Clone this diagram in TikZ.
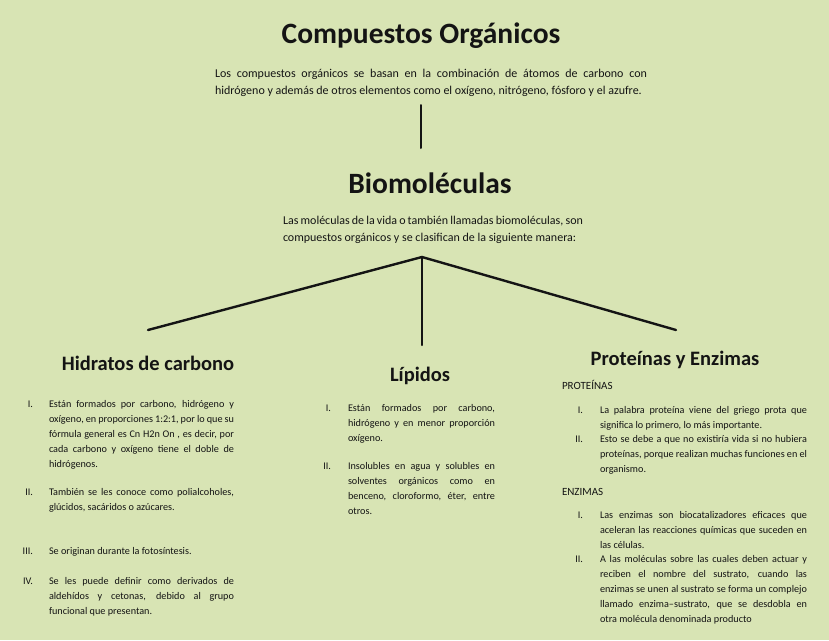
\documentclass[tikz,border=0pt]{standalone}
\usepackage{fontspec}
\setmainfont{Carlito}
\definecolor{bg}{RGB}{216,228,180}
\definecolor{ink}{RGB}{20,20,20}
\hyphenpenalty=10000
\exhyphenpenalty=10000
\emergencystretch=20pt
\begin{document}
\begin{tikzpicture}[x=1pt,y=-1pt,
  every node/.style={inner sep=0pt,outer sep=0pt,text=ink},
  title/.style={font=\bfseries\fontsize{29.5}{32}\selectfont, anchor=base},
  branch/.style={font=\bfseries\fontsize{20.5}{22}\selectfont, anchor=base},
  intro/.style={font=\fontsize{12}{17.5}\selectfont, anchor=base west, align=justify},
  num/.style={font=\fontsize{10.2}{15}\selectfont, anchor=base east},
  body/.style={font=\fontsize{10.2}{15}\selectfont, anchor=base west, align=justify},
  sub/.style={font=\fontsize{11}{15}\selectfont, anchor=base west},
  link/.style={line width=2.4pt, draw=ink, line cap=round}
]
\fill[bg] (0,0) rectangle (829,640);
\useasboundingbox (0,0) rectangle (829,640);

% top
\node[title] (t) at (421,43) {Compuestos Orgánicos};
\node[intro, text width=432pt] (tp) at (215,77) {\parfillskip=0pt Los compuestos orgánicos se basan en la combinación de átomos de carbono con\linebreak hidrógeno y además de otros elementos como el oxígeno, nitrógeno, fósforo y el azufre.};
\coordinate (v1) at (421,105);
\coordinate (v2) at (421,148);
\draw[link, line width=2pt] (v1) -- (v2);

\node[title] (b) at (430,193) {Biomoléculas};
\node[intro, text width=300pt] (bp) at (283,224) {\parfillskip=0pt Las moléculas de la vida o también llamadas biomoléculas, son\linebreak compuestos orgánicos y se clasifican de la siguiente manera:};

\coordinate (apex) at (422,257);
\coordinate (e1) at (148,330);
\coordinate (e2) at (422,345);
\coordinate (e3) at (676,330);
\draw[link] (apex) -- (e1);
\draw[link] (apex) -- (e2);
\draw[link] (apex) -- (e3);

\node[branch] (hc) at (148,370) {Hidratos de carbono};
\node[branch] (lp) at (420,381) {Lípidos};
\node[branch] (pe) at (675,365) {Proteínas y Enzimas};

% left list
\node[num] (l1n) at (33,407) {I.};
\node[body, text width=185pt] (l1) at (49,407) {Están formados por carbono, hidrógeno y\linebreak oxígeno, en proporciones 1:2:1, por lo que su\linebreak fórmula general es Cn H2n On , es decir, por\linebreak cada carbono y oxígeno tiene el doble de\linebreak hidrógenos.};
\node[num] (l2n) at (33,495) {II.};
\node[body, text width=185pt] (l2) at (49,495) {También se les conoce como polialcoholes,\linebreak glúcidos, sacáridos o azúcares.};
\node[num] (l3n) at (33,554) {III.};
\node[body, text width=185pt] (l3) at (49,554) {Se originan durante la fotosíntesis.};
\node[num] (l4n) at (33,584) {IV.};
\node[body, text width=185pt] (l4) at (49,584) {Se les puede definir como derivados de\linebreak aldehídos y cetonas, debido al grupo\linebreak funcional que presentan.};

% middle list
\node[num] (m1n) at (331,411) {I.};
\node[body, text width=147pt] (m1) at (348,411) {Están formados por carbono,\linebreak hidrógeno y en menor proporción\linebreak oxígeno.};
\node[num] (m2n) at (331,469) {II.};
\node[body, text width=147pt] (m2) at (348,469) {Insolubles en agua y solubles en\linebreak solventes orgánicos como en\linebreak benceno, cloroformo, éter, entre\linebreak otros.};

% right list
\node[sub] (ph) at (562,389) {PROTEÍNAS};
\node[num] (r1n) at (583,413) {I.};
\node[body, text width=207pt] (r1) at (600,413) {La palabra proteína viene del griego prota que\linebreak significa lo primero, lo más importante.};
\node[num] (r2n) at (583,442) {II.};
\node[body, text width=207pt] (r2) at (600,442) {Esto se debe a que no existiría vida si no hubiera\linebreak proteínas, porque realizan muchas funciones en el\linebreak organismo.};
\node[sub] (eh) at (562,495) {ENZIMAS};
\node[num] (r3n) at (583,518) {I.};
\node[body, text width=207pt] (r3) at (600,518) {Las enzimas son biocatalizadores eficaces que\linebreak aceleran las reacciones químicas que suceden en\linebreak las células.};
\node[num] (r4n) at (583,562) {II.};
\node[body, text width=207pt] (r4) at (600,562) {A las moléculas sobre las cuales deben actuar y\linebreak reciben el nombre del sustrato, cuando las\linebreak enzimas se unen al sustrato se forma un complejo\linebreak llamado enzima–sustrato, que se desdobla en\linebreak otra molécula denominada producto};
\end{tikzpicture}
\end{document}
